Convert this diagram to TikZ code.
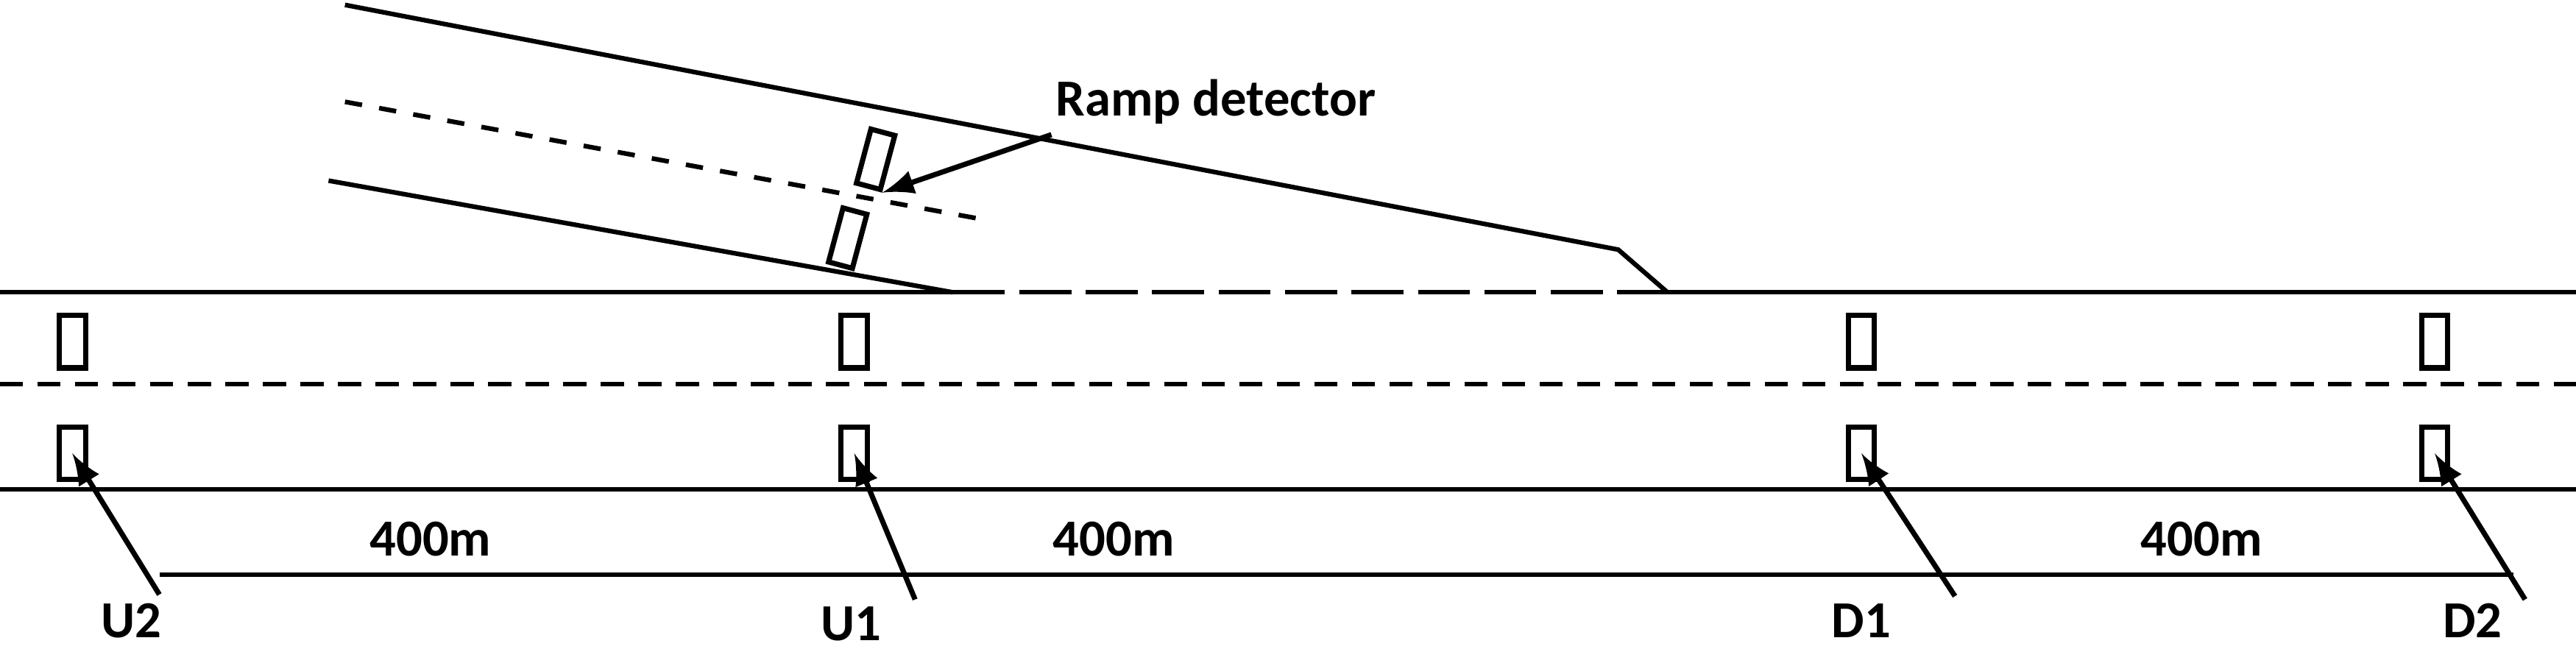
\documentclass[tikz,border=0pt]{standalone}
\usepackage{fontspec}
\setmainfont{Carlito}
\begin{document}
\begin{tikzpicture}[x=0.01cm,y=-0.01cm,line width=0.8pt,
  det/.style={draw,line width=0.9pt,minimum width=0.16cm,minimum height=0.32cm,inner sep=0pt},
  lbl/.style={font=\fontsize{9}{11}\selectfont\bfseries},
  arr/.style={-latex,line width=0.9pt}]
\useasboundingbox (0,0) rectangle (1568,395);
% main road
\draw (0,178) -- (580,178);
\draw[dash pattern=on 9pt off 2.5pt] (580,178) -- (1015,178);
\draw (1015,178) -- (1568,178);
\draw[dash pattern=on 4pt off 2.5pt] (0,234) -- (1568,234);
\draw (0,298) -- (1568,298);
% ramp
\draw (210,3) -- (985,152) -- (1015,178);
\draw[dash pattern=on 3pt off 3pt] (210,62) -- (595,133);
\draw (200,110) -- (580,178);
\node[det,rotate=-15,minimum height=0.34cm,minimum width=0.15cm] (r1) at (533,97) {};
\node[det,rotate=-15,minimum height=0.34cm,minimum width=0.15cm] (r2) at (516,145) {};
\node[lbl] (rl) at (740,62) {Ramp detector};
\coordinate (rs) at (640,82);
\draw[arr] (rs) -- (r1.south east);
% detectors
\foreach \n/\x in {u2/44,u1/520,d1/1133,d2/1482}{
  \node[det] (\n t) at (\x,208) {};
  \node[det] (\n b) at (\x,276) {};
}
% labels
\node[lbl] (U2) at (80,378) {U2};
\node[lbl] (U1) at (518,380) {U1};
\node[lbl] (D1) at (1133,378) {D1};
\node[lbl] (D2) at (1505,378) {D2};
\coordinate (a2) at (97,362); \coordinate (a1) at (557,365);
\coordinate (a3) at (1190,363); \coordinate (a4) at (1537,365);
\draw[arr] (a2) -- (u2b.center);
\draw[arr] (a1) -- (u1b.center);
\draw[arr] (a3) -- (d1b.center);
\draw[arr] (a4) -- (d2b.center);
% dimension
\coordinate (m1) at (97,350); \coordinate (m2) at (1530,350);
\draw (m1) -- (m2);
\node[lbl] (l1) at (262,328) {400m};
\node[lbl] (l2) at (678,328) {400m};
\node[lbl] (l3) at (1340,328) {400m};
\end{tikzpicture}
\end{document}
